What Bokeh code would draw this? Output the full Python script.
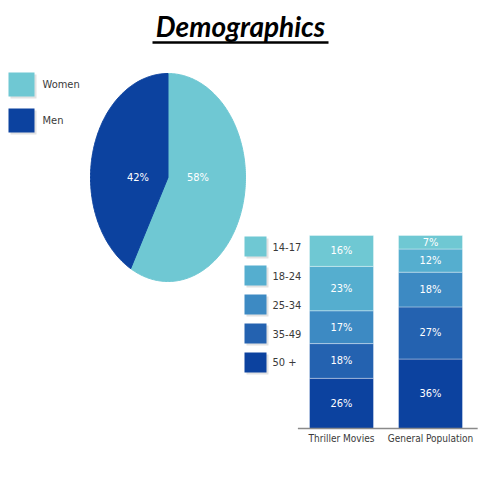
import numpy as np
from bokeh.plotting import figure
from bokeh.models import Range1d, ColumnDataSource
from bokeh.core.properties import value
from bokeh.embed import file_html
from bokeh.resources import INLINE

# ---------------- data ----------------
title_text = "Demographics"

gender_labels = ["Women", "Men"]
gender_values = [58, 42]
gender_colors = ["#6FC8D3", "#0C429F"]

categories = ["Thriller Movies", "General Population"]
age_groups = ["14-17", "18-24", "25-34", "35-49", "50 +"]
thriller = [16, 23, 17, 18, 26]
general = [7, 12, 18, 27, 36]
age_colors = ["#6FC8D3", "#55AECF", "#3D8AC3", "#2462B0", "#0C429F"]

# ---------------- layout constants ----------------
W = H = 480
# pie ellipse (screen px, y from top)
pcx, pcy, prx, pry = 167.5, 177.0, 77.5, 104.0
# bars (screen px)
bar_c0, bar_pitch = 341.0, 89.0
bar_base, bar_top = 428.0, 235.0
ppp = (bar_base - bar_top) / 100.0

label_font = value("DejaVu Sans Condensed, Roboto")
txt_col = "#3a3a3a"

p = figure(width=W, height=H, output_backend="svg", toolbar_location=None,
           x_range=Range1d(0, W), y_range=Range1d(H, 0),
           x_axis_type=None, y_axis_type=None, min_border=0,
           outline_line_color=None, background_fill_color="white")
p.grid.visible = False

p.extra_x_ranges = {
    "pie_x": Range1d(-pcx / prx, (W - pcx) / prx),
    "bar_x": Range1d(-bar_c0 / bar_pitch, (W - bar_c0) / bar_pitch),
}
p.extra_y_ranges = {
    "pie_y": Range1d(-(H - pcy) / pry, pcy / pry),
    "bar_y": Range1d(-(H - bar_base) / ppp, bar_base / ppp),
}

# ---------------- title ----------------
p.text(x=[W / 2], y=[25], text=[title_text], text_align="center", text_baseline="middle",
       text_font=value("Lato"), text_font_style="bold italic", text_font_size="28px",
       text_color="black")
p.segment(x0=[152], x1=[328], y0=[42], y1=[42], line_color="black", line_width=2.5)

# ---------------- pie ----------------
fracs = np.array(gender_values, dtype=float) / sum(gender_values)
edges = np.concatenate([[0.0], np.cumsum(fracs)]) * 2 * np.pi
xs, ys, mids = [], [], []
for a0, a1 in zip(edges[:-1], edges[1:]):
    t = np.linspace(a0, a1, 200)
    xs.append(np.concatenate([[0.0], np.sin(t), [0.0]]))
    ys.append(np.concatenate([[0.0], np.cos(t), [0.0]]))
    mids.append((a0 + a1) / 2)
p.patches(xs=xs, ys=ys, fill_color=gender_colors, line_color=gender_colors, line_width=1,
          x_range_name="pie_x", y_range_name="pie_y")
p.text(x=[0.4 * np.sin(m) for m in mids], y=[0.0] * len(mids),
       text=[f"{v}%" for v in gender_values], text_align="center", text_baseline="middle",
       text_font=label_font, text_font_size="11px", text_color="white",
       x_range_name="pie_x", y_range_name="pie_y")

# pie legend
gy = [84 + 36 * i for i in range(len(gender_labels))]
p.rect(x=[23] * len(gy), y=[g + 2 for g in gy], width=26, height=24, fill_color="#d5d5d5",
       line_color=None, fill_alpha=0.7)
p.rect(x=[21] * len(gy), y=gy, width=26, height=24, fill_color=gender_colors, line_color=None)
p.text(x=[42] * len(gy), y=gy, text=gender_labels, text_baseline="middle",
       text_font=label_font, text_font_size="11px", text_color=txt_col)

# ---------------- stacked bars ----------------
stack_keys = list(reversed(age_groups))  # bottom to top
data = {"x": list(range(len(categories)))}
for i, g in enumerate(age_groups):
    data[g] = [thriller[i], general[i]]
src = ColumnDataSource(data)
p.vbar_stack(stack_keys, x="x", width=64 / bar_pitch, source=src,
             color=list(reversed(age_colors)), line_color="white", line_alpha=0.35, line_width=1,
             x_range_name="bar_x", y_range_name="bar_y")

lx, ly, lt = [], [], []
for ci, series in enumerate([thriller, general]):
    bottom = 0
    for v in reversed(series):
        lx.append(ci)
        ly.append(bottom + v / 2)
        lt.append(f"{v}%")
        bottom += v
p.text(x=lx, y=ly, text=lt, text_align="center", text_baseline="middle",
       text_font=label_font, text_font_size="11px", text_color="white",
       x_range_name="bar_x", y_range_name="bar_y")

# baseline and category labels
p.segment(x0=[-0.49], x1=[1.53], y0=[0], y1=[0], line_color="#8a8a8a", line_width=1.5,
          x_range_name="bar_x", y_range_name="bar_y")
p.text(x=list(range(len(categories))), y=[0] * len(categories), text=categories,
       text_align="center", text_baseline="middle", y_offset=10,
       text_font=label_font, text_font_size="10px", text_color=txt_col,
       x_range_name="bar_x", y_range_name="bar_y")

# age legend
ay = [246 + 29 * i for i in range(len(age_groups))]
p.rect(x=[257] * len(ay), y=[a + 2 for a in ay], width=22, height=20, fill_color="#d5d5d5",
       line_color=None, fill_alpha=0.7)
p.rect(x=[255] * len(ay), y=ay, width=22, height=20, fill_color=age_colors, line_color=None)
p.text(x=[272] * len(ay), y=ay, text=age_groups, text_baseline="middle",
       text_font=label_font, text_font_size="11px", text_color=txt_col)

open("out.html", "w").write(file_html(p, INLINE))
